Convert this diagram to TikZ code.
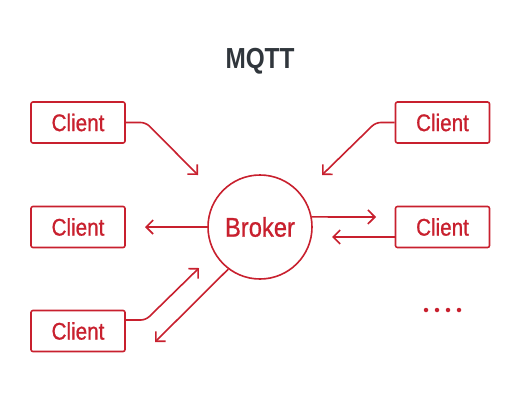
\documentclass[tikz,border=0pt]{standalone}
\usepackage{fontspec}
\setmainfont{Liberation Sans}
\newfontfamily\labelfont{Liberation Sans}[FakeBold=0.9]
\usetikzlibrary{arrows.meta}

\definecolor{mqttred}{RGB}{200,32,46}
\definecolor{mqttgray}{RGB}{48,54,60}
\newcommand*{\narrowtext}[2]{\scalebox{#1}[1]{#2}}

\begin{document}
\begin{tikzpicture}
[
	x=1pt, y=-1pt,
	client/.style={draw=mqttred,text=mqttred,line width=1.6pt,rounded corners=2pt,minimum width=94pt,minimum height=41pt,inner sep=0pt,font=\labelfont\fontsize{24}{24}\selectfont},
	broker/.style={circle,draw=mqttred,text=mqttred,line width=1.6pt,minimum size=104pt,inner sep=0pt,font=\labelfont\fontsize{27}{27}\selectfont},
	conn/.style={draw=mqttred,line width=1.6pt,-{Straight Barb[length=7pt,width=14pt]},rounded corners=5pt},
	dot/.style={circle,fill=mqttred,inner sep=0pt,minimum size=4.5pt}
]
	\useasboundingbox (0,0) rectangle (526,415);

	% title
	\node[text=mqttgray,font=\bfseries\fontsize{29}{29}\selectfont] (title) at (260,61) {\narrowtext{0.84}{MQTT}};

	% broker
	\node[broker] (broker) at (260,227) {\narrowtext{0.88}{Broker}};

	% clients
	\node[client] (c1) at (78,122.5) {\narrowtext{0.86}{Client}};
	\node[client] (c2) at (78,227) {\narrowtext{0.86}{Client}};
	\node[client] (c3) at (78,331) {\narrowtext{0.86}{Client}};
	\node[client] (c4) at (442.5,122.5) {\narrowtext{0.86}{Client}};
	\node[client] (c5) at (442.5,227) {\narrowtext{0.86}{Client}};

	% more clients
	\foreach \i/\x in {1/426,2/437,3/448,4/459}
		\node[dot] (more\i) at (\x,310) {};

	% arrow ends
	\coordinate (t1) at (198,175);
	\coordinate (t2) at (322,175);
	\coordinate (t3) at (145,227);
	\coordinate (t4) at (376,217);
	\coordinate (t5) at (332,237);
	\coordinate (t6) at (199,268);
	\coordinate (t7) at (155,342);

	% connectors
	\draw[conn] (c1.east) -- ++(20,0) -- (t1);
	\draw[conn] (c4.west) -- ++(-19,0) -- (t2);
	\draw[conn] (broker.west) -- (t3);
	\draw[conn] (broker.11) -- (t4);
	\draw[conn] ([yshift=-10pt]c5.west) -- (t5);
	\draw[conn] ([yshift=11pt]c3.east) -- ++(20,0) -- (t6);
	\draw[conn] (broker.233) -- (t7);

\end{tikzpicture}
\end{document}
